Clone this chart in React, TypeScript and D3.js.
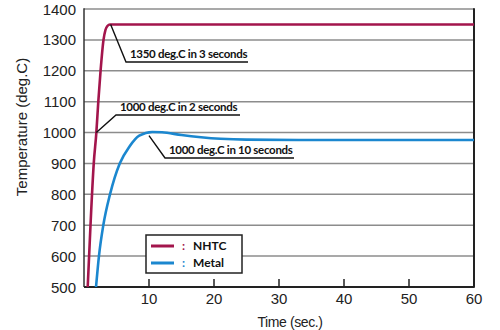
import React from "react";
import * as d3 from "d3";

const nhtcTime = [0.57, 1.0, 1.5, 1.9, 2.2, 2.55, 3.0, 3.3, 3.6, 4.0, 10, 20, 30, 40, 50, 60];
const nhtcTemp = [500, 700, 900, 1000, 1100, 1200, 1300, 1332, 1345, 1350, 1350, 1350, 1350, 1350, 1350, 1350];

const metalTime = [1.85, 2.3, 2.97, 4.0, 5.5, 7.0, 8.5, 10.5, 12, 15, 18, 21, 25, 33, 45, 60];
const metalTemp = [500, 600, 700, 800, 900, 955, 990, 1002, 1001, 992, 985, 980, 977, 976, 976, 976];

const xTicks = [10, 20, 30, 40, 50, 60];
const yTicks = [500, 600, 700, 800, 900, 1000, 1100, 1200, 1300, 1400];

const annTexts = ["1350 deg.C in 3 seconds", "1000 deg.C in 2 seconds", "1000 deg.C in 10 seconds"];
const annTime = [4.1, 1.9, 10];
const annTemp = [1350, 1000, 1000];

const seriesNames = ["NHTC", "Metal"];
const seriesColors = ["#a3154c", "#1b87cf"];

export default function App() {
  const W = 500, H = 330;
  const L = 84, R = 474, T = 9, B = 287;
  const x = d3.scaleLinear().domain([0, 60]).range([L, R]);
  const y = d3.scaleLinear().domain([500, 1400]).range([B, T]);
  const line = d3
    .line<[number, number]>()
    .x((d) => x(d[0]))
    .y((d) => y(d[1]))
    .curve(d3.curveMonotoneX);
  const nhtc = nhtcTime.map((t, i) => [t, nhtcTemp[i]] as [number, number]);
  const metal = metalTime.map((t, i) => [t, metalTemp[i]] as [number, number]);

  const annLayout = [
    { ex: 126, ey: 62, ux: 248, tx: 130, dy: 0 },
    { ex: 116, ey: 115, ux: 240, tx: 120, dy: 0 },
    { ex: 165, ey: 158, ux: 294, tx: 169, dy: 3 },
  ];
  const annFont = "Lato, 'Open Sans', sans-serif";
  const axisFont = "'Liberation Sans', Arial, sans-serif";

  return (
    <div style={{ position: "absolute", left: 0, top: 0 }}>
      <svg width={W} height={H} style={{ display: "block", background: "#fff" }}>
        {yTicks.map((v) => (
          <line key={"g" + v} x1={L} x2={R} y1={y(v)} y2={y(v)} stroke="#8c8c8c" strokeWidth={1.5} />
        ))}
        <line x1={L} x2={L} y1={T - 0.75} y2={B} stroke="#333" strokeWidth={1.5} />
        <line x1={R} x2={R} y1={T - 0.75} y2={B + 0.75} stroke="#222" strokeWidth={2} />
        <line x1={L} x2={R} y1={B} y2={B} stroke="#222" strokeWidth={1.8} />
        {xTicks.map((v) => (
          <line key={"xt" + v} x1={x(v)} x2={x(v)} y1={B} y2={B - 8} stroke="#222" strokeWidth={1.5} />
        ))}
        {xTicks.map((v) => (
          <text key={"xl" + v} x={x(v)} y={304} textAnchor="middle" fontFamily={axisFont} fontSize={15} fill="#222">
            {v}
          </text>
        ))}
        {yTicks.map((v) => (
          <text key={"yl" + v} x={76} y={y(v) + 5.5} textAnchor="end" fontFamily={axisFont} fontSize={15} fill="#222">
            {v}
          </text>
        ))}
        <text
          transform={`translate(27,127) rotate(-90)`}
          textAnchor="middle"
          fontFamily={axisFont}
          fontSize={15}
          fill="#222"
        >
          Temperature (deg.C)
        </text>
        <text x={290} y={327} textAnchor="middle" fontFamily={axisFont} fontSize={14} letterSpacing={-0.4} fill="#222">
          Time (sec.)
        </text>

        <path d={line(metal) || ""} fill="none" stroke={seriesColors[1]} strokeWidth={2.6} />
        <path d={line(nhtc) || ""} fill="none" stroke={seriesColors[0]} strokeWidth={2.6} />

        {annTexts.map((txt, i) => {
          const a = annLayout[i];
          const ax = x(annTime[i]);
          const ay = y(annTemp[i]) + a.dy;
          return (
            <g key={"a" + i}>
              <polyline
                points={`${ax},${ay} ${a.ex},${a.ey} ${a.ux},${a.ey}`}
                fill="none"
                stroke="#111"
                strokeWidth={1.4}
              />
              <text
                x={a.tx}
                y={a.ey - 4}
                fontFamily={annFont}
                fontWeight={700}
                fontSize={11.5}
                letterSpacing={-0.3}
                fill="#111"
              >
                {txt}
              </text>
            </g>
          );
        })}

        <rect x={146} y={235} width={96} height={38} fill="#fff" stroke="#222" strokeWidth={1.5} />
        {seriesNames.map((n, i) => {
          const ly = 246 + i * 17;
          return (
            <g key={"lg" + n}>
              <line x1={151} x2={174} y1={ly} y2={ly} stroke={seriesColors[i]} strokeWidth={3} />
              <text x={182} y={ly + 4} fontFamily={annFont} fontWeight={700} fontSize={12} fill={seriesColors[i]}>
                :
              </text>
              <text x={193} y={ly + 4} fontFamily={annFont} fontWeight={700} fontSize={12} fill="#111">
                {n}
              </text>
            </g>
          );
        })}
      </svg>
    </div>
  );
}
